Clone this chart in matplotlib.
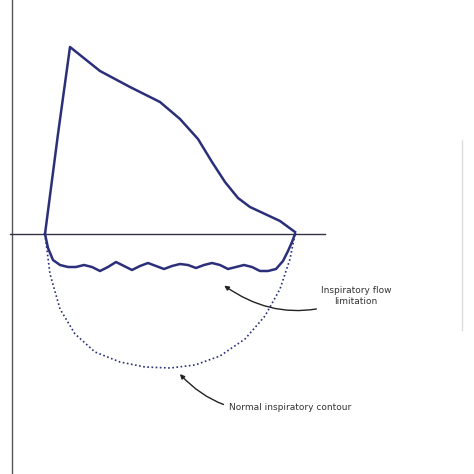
import matplotlib.pyplot as plt

# Expiratory limb (volume, flow) in picture units; flow positive = up
exp_vol = [45, 58, 70, 100, 130, 160, 180, 198, 212, 225, 238, 250, 265, 280, 295]
exp_flow = [0, 100, 187, 163, 147, 132, 115, 95, 72, 52, 36, 27, 20, 13, 2]

# Inspiratory limb with flow limitation (smooth waves)
insp_vol = [45, 48, 53, 60, 68, 76, 84, 92, 100, 108, 116, 124, 132, 140, 148, 156,
            164, 172, 180, 188, 196, 204, 212, 220, 228, 236, 244, 252, 260, 268,
            276, 283, 288, 292, 295]
insp_flow = [0, -14, -26, -31, -33, -33, -31, -33, -37, -33, -28, -32, -36, -32, -29,
             -32, -35, -32, -30, -31, -34, -31, -29, -31, -35, -33, -31, -33, -37,
             -37, -35, -27, -17, -8, 0]

# Normal inspiratory contour (dotted)
norm_vol = [45, 50, 60, 75, 95, 120, 145, 170, 195, 220, 245, 265, 280, 290, 295]
norm_flow = [0, -40, -75, -100, -118, -128, -133, -134, -131, -122, -105, -82, -55, -25, 0]

fig = plt.figure(figsize=(4.74, 4.74), dpi=100)
ax = fig.add_axes([0, 0, 1, 1])
ax.set_xlim(0, 474)
ax.set_ylim(-240, 234)
ax.axis("off")

navy = "#2b2f7a"
ax.plot([12, 12], [-240, 234], color="#555555", lw=1)
ax.plot([10, 325], [0, 0], color="#333344", lw=1)
ax.plot([462, 462], [-96, 94], color="#dddddd", lw=1)
ax.plot(exp_vol, exp_flow, color=navy, lw=1.8)
ax.plot(insp_vol, insp_flow, color=navy, lw=1.8)
ax.plot(norm_vol, norm_flow, color=navy, lw=1.2, ls=(0, (1, 1.5)))

ax.annotate("Inspiratory flow\nlimitation", xy=(222, -50), xytext=(356, -62),
            ha="center", va="center", fontsize=6.5, color="#333333",
            arrowprops=dict(arrowstyle="-|>", color="#222222", lw=1,
                            connectionstyle="arc3,rad=-0.3"))
ax.annotate("Normal inspiratory contour", xy=(178, -138), xytext=(290, -173),
            ha="center", va="center", fontsize=6.5, color="#333333",
            arrowprops=dict(arrowstyle="-|>", color="#222222", lw=1,
                            connectionstyle="arc3,rad=-0.3"))

fig.savefig("out.png", dpi=100)
